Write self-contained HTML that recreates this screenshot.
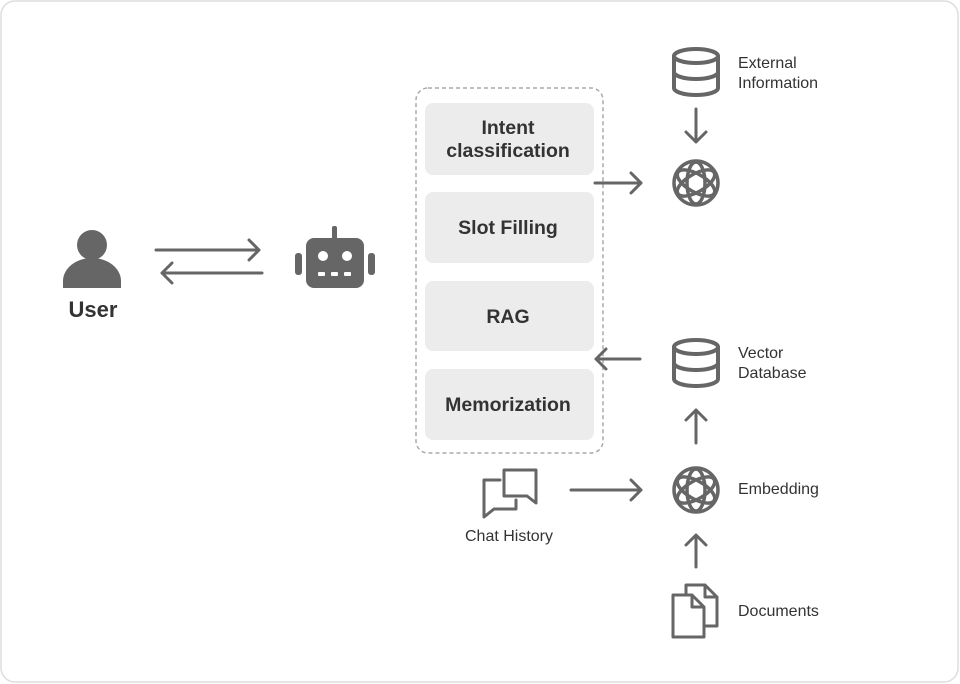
<!DOCTYPE html>
<html><head><style>
body{margin:0;background:#fff;}
svg{display:block;font-family:"Liberation Sans",Arial,sans-serif;}
</style></head><body>
<svg width="960" height="684" viewBox="0 0 960 684">
<defs>
<g id="db">
<ellipse cx="0" cy="-16" rx="22" ry="7" fill="none" stroke="#666" stroke-width="4"/>
<path d="M-22,-16 V16 A22,7 0 0 0 22,16 V-16" fill="none" stroke="#666" stroke-width="4"/>
<path d="M-22,0 A22,7 0 0 0 22,0" fill="none" stroke="#666" stroke-width="4"/>
</g>
<g id="ai" fill="none" stroke="#666" stroke-width="3.5">
<ellipse rx="9" ry="21"/>
<ellipse rx="9" ry="21" transform="rotate(60)"/>
<ellipse rx="9" ry="21" transform="rotate(120)"/>
<circle r="22"/>
</g>
</defs>
<rect x="1" y="1" width="957" height="681" rx="14" fill="#fff" stroke="#ddd" stroke-width="1.5"/>

<circle cx="92" cy="245" r="15" fill="#666"/>
<path d="M63,288 V281 A29,23 0 0 1 121,281 V288 Z" fill="#666"/>
<text x="93" y="317" text-anchor="middle" font-size="22" font-weight="bold" fill="#333">User</text>

<path d="M156,250 H259 M249,240 L259,250 L249,260" fill="none" stroke="#666" stroke-width="3" stroke-linecap="round" stroke-linejoin="round"/>
<path d="M262,273 H162 M172,263 L162,273 L172,283" fill="none" stroke="#666" stroke-width="3" stroke-linecap="round" stroke-linejoin="round"/>

<rect x="306" y="238" width="58" height="50" rx="8" fill="#666"/>
<rect x="332" y="226" width="5" height="14" rx="2" fill="#666"/>
<rect x="295" y="253" width="7" height="22" rx="3" fill="#666"/>
<rect x="368" y="253" width="7" height="22" rx="3" fill="#666"/>
<circle cx="323" cy="256" r="5" fill="#fff"/>
<circle cx="347" cy="256" r="5" fill="#fff"/>
<rect x="318" y="272" width="7" height="4" rx="1" fill="#fff"/>
<rect x="331" y="272" width="7" height="4" rx="1" fill="#fff"/>
<rect x="344" y="272" width="7" height="4" rx="1" fill="#fff"/>

<rect x="416" y="88" width="187" height="365" rx="12" fill="none" stroke="#aaa" stroke-width="1.5" stroke-dasharray="4,3"/>
<rect x="425" y="103" width="169" height="72" rx="8" fill="#ececec"/>
<rect x="425" y="192" width="169" height="71" rx="8" fill="#ececec"/>
<rect x="425" y="281" width="169" height="70" rx="8" fill="#ececec"/>
<rect x="425" y="369" width="169" height="71" rx="8" fill="#ececec"/>
<g font-size="19.5" font-weight="bold" fill="#333" text-anchor="middle">
<text x="508" y="134">Intent</text>
<text x="508" y="157">classification</text>
<text x="508" y="234">Slot Filling</text>
<text x="508" y="323">RAG</text>
<text x="508" y="411">Memorization</text>
</g>

<use href="#db" x="696" y="72"/>
<use href="#db" x="696" y="363"/>
<use href="#ai" x="696" y="183"/>
<use href="#ai" x="696" y="490"/>
<g font-size="16" fill="#333">
<text x="738" y="68">External</text>
<text x="738" y="88">Information</text>
<text x="738" y="358">Vector</text>
<text x="738" y="378">Database</text>
<text x="738" y="494">Embedding</text>
<text x="738" y="616">Documents</text>
<text x="509" y="541" text-anchor="middle">Chat History</text>
</g>
<g fill="none" stroke="#666" stroke-width="3" stroke-linecap="round" stroke-linejoin="round">
<path d="M696,109 V142 M686,132 L696,142 L706,132"/>
<path d="M595,183 H641 M631,173 L641,183 L631,193"/>
<path d="M640,359 H596 M606,349 L596,359 L606,369"/>
<path d="M696,443 V410 M686,420 L696,410 L706,420"/>
<path d="M571,490 H641 M631,480 L641,490 L631,500"/>
<path d="M696,567 V535 M686,545 L696,535 L706,545"/>
<path d="M504,470 H536 V503 L527,496 H504 Z"/>
<path d="M500,480 H484 V517 L494,509 H516 V500"/>
<path d="M686,585 H705 L717,597 V626 H686 Z M705,585 V597 H717"/>
<path d="M673,595 H692 L704,607 V637 H673 Z M692,595 V607 H704" fill="#fff"/>
</g>
</svg>
</body></html>
